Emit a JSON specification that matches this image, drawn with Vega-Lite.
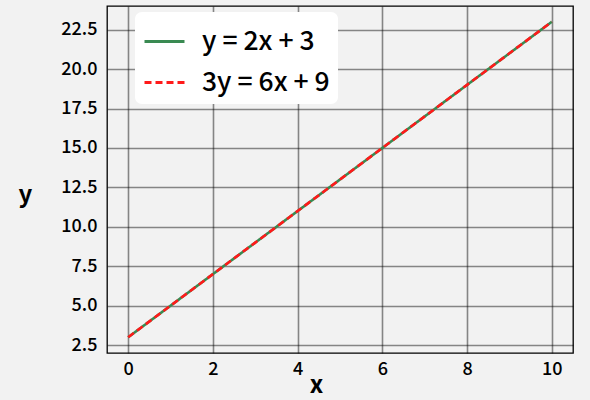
{
  "$schema": "https://vega.github.io/schema/vega-lite/v6.json",
  "autosize": "none",
  "width": 466,
  "height": 347,
  "padding": {"left": 107, "top": 6, "right": 17, "bottom": 47},
  "background": "#f2f2f2",
  "config": {
    "font": "Noto Sans CJK SC",
    "view": {"fill": "#f2f2f2", "stroke": "#000000", "strokeWidth": 1.3},
    "axis": {
      "gridColor": "#000000",
      "gridOpacity": 0.45,
      "gridWidth": 1.6,
      "domain": false,
      "ticks": false,
      "labelColor": "#000000",
      "labelFont": "Noto Sans CJK SC",
      "titleFont": "Noto Sans CJK SC",
      "titleFontSize": 24,
      "titleFontWeight": "bold",
      "titleColor": "#000000"
    }
  },
  "data": {
    "values": [
      {"x": 0, "y": 3, "series": "y = 2x + 3"},
      {"x": 1, "y": 5, "series": "y = 2x + 3"},
      {"x": 2, "y": 7, "series": "y = 2x + 3"},
      {"x": 3, "y": 9, "series": "y = 2x + 3"},
      {"x": 4, "y": 11, "series": "y = 2x + 3"},
      {"x": 5, "y": 13, "series": "y = 2x + 3"},
      {"x": 6, "y": 15, "series": "y = 2x + 3"},
      {"x": 7, "y": 17, "series": "y = 2x + 3"},
      {"x": 8, "y": 19, "series": "y = 2x + 3"},
      {"x": 9, "y": 21, "series": "y = 2x + 3"},
      {"x": 10, "y": 23, "series": "y = 2x + 3"},
      {"x": 0, "y": 3, "series": "3y = 6x + 9"},
      {"x": 1, "y": 5, "series": "3y = 6x + 9"},
      {"x": 2, "y": 7, "series": "3y = 6x + 9"},
      {"x": 3, "y": 9, "series": "3y = 6x + 9"},
      {"x": 4, "y": 11, "series": "3y = 6x + 9"},
      {"x": 5, "y": 13, "series": "3y = 6x + 9"},
      {"x": 6, "y": 15, "series": "3y = 6x + 9"},
      {"x": 7, "y": 17, "series": "3y = 6x + 9"},
      {"x": 8, "y": 19, "series": "3y = 6x + 9"},
      {"x": 9, "y": 21, "series": "3y = 6x + 9"},
      {"x": 10, "y": 23, "series": "3y = 6x + 9"}
    ]
  },
  "mark": {"type": "line", "strokeWidth": 2.6},
  "encoding": {
    "x": {
      "field": "x", "type": "quantitative",
      "scale": {"domain": [-0.5, 10.5], "nice": false, "zero": false},
      "axis": {"values": [0, 2, 4, 6, 8, 10], "labelFontSize": 18, "labelFontWeight": 500, "title": "x", "titleX": 209, "titleY": 32, "titleBaseline": "middle", "labelPadding": 7}
    },
    "y": {
      "field": "y", "type": "quantitative",
      "scale": {"domain": [2, 24], "nice": false, "zero": false},
      "axis": {
        "values": [2.5, 5, 7.5, 10, 12.5, 15, 17.5, 20, 22.5],
        "format": ".1f",
        "labelFontSize": 18,
        "labelFontWeight": 500,
        "labelPadding": 10,
        "title": "y",
        "titleAngle": 0,
        "titleX": -82,
        "titleY": 189,
        "titleBaseline": "middle",
        "titleAlign": "center"
      }
    },
    "color": {
      "field": "series", "type": "nominal",
      "scale": {"domain": ["y = 2x + 3", "3y = 6x + 9"], "range": ["#3a8a52", "#ff1a1a"]},
      "legend": {
        "title": null,
        "orient": "none",
        "legendX": 28,
        "legendY": 6,
        "fillColor": "#ffffff",
        "cornerRadius": 7,
        "padding": 8,
        "symbolType": "stroke",
        "symbolSize": 1600,
        "symbolStrokeWidth": 3,
        "labelFontSize": 26.5,
        "labelFont": "Noto Sans CJK SC",
        "labelFontWeight": 500,
        "labelColor": "#000000",
        "labelOffset": 16,
        "rowPadding": 6,
        "labelLimit": 300
      }
    },
    "strokeDash": {
      "field": "series", "type": "nominal",
      "scale": {"domain": ["y = 2x + 3", "3y = 6x + 9"], "range": [[1, 0], [7, 4]]}
    },
    "order": {"field": "x"}
  }
}
